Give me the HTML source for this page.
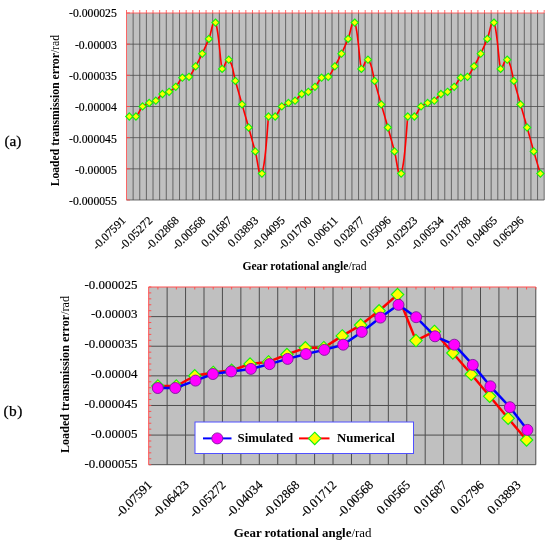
<!DOCTYPE html>
<html><head><meta charset="utf-8"><title>Loaded transmission error</title>
<style>html,body{margin:0;padding:0;background:#fff}svg{display:block}</style></head>
<body>
<svg width="550" height="544" viewBox="0 0 550 544">
<rect width="550" height="544" fill="#fff"/>
<rect x="126.5" y="13" width="417.7" height="187" fill="#c0c0c0"/>
<path d="M133.13 13V200M139.76 13V200M146.39 13V200M153.02 13V200M159.65 13V200M166.28 13V200M172.91 13V200M179.54 13V200M186.17 13V200M192.8 13V200M199.43 13V200M206.06 13V200M212.69 13V200M219.32 13V200M225.95 13V200M232.58 13V200M239.21 13V200M245.84 13V200M252.47 13V200M259.1 13V200M265.73 13V200M272.36 13V200M278.99 13V200M285.62 13V200M292.25 13V200M298.88 13V200M305.51 13V200M312.14 13V200M318.77 13V200M325.4 13V200M332.03 13V200M338.67 13V200M345.3 13V200M351.93 13V200M358.56 13V200M365.19 13V200M371.82 13V200M378.45 13V200M385.08 13V200M391.71 13V200M398.34 13V200M404.97 13V200M411.6 13V200M418.23 13V200M424.86 13V200M431.49 13V200M438.12 13V200M444.75 13V200M451.38 13V200M458.01 13V200M464.64 13V200M471.27 13V200M477.9 13V200M484.53 13V200M491.16 13V200M497.79 13V200M504.42 13V200M511.05 13V200M517.68 13V200M524.31 13V200M530.94 13V200M537.57 13V200M544.2 13V200M126.5 44.17H544.2M126.5 75.33H544.2M126.5 106.5H544.2M126.5 137.67H544.2M126.5 168.83H544.2M126.5 200H544.2" stroke="#4c4c4c" stroke-width="0.8" fill="none"/>
<path d="M126.5 200V13H544.2M126.5 13v-3M133.13 13v-3M139.76 13v-3M146.39 13v-3M153.02 13v-3M159.65 13v-3M166.28 13v-3M172.91 13v-3M179.54 13v-3M186.17 13v-3M192.8 13v-3M199.43 13v-3M206.06 13v-3M212.69 13v-3M219.32 13v-3M225.95 13v-3M232.58 13v-3M239.21 13v-3M245.84 13v-3M252.47 13v-3M259.1 13v-3M265.73 13v-3M272.36 13v-3M278.99 13v-3M285.62 13v-3M292.25 13v-3M298.88 13v-3M305.51 13v-3M312.14 13v-3M318.77 13v-3M325.4 13v-3M332.03 13v-3M338.67 13v-3M345.3 13v-3M351.93 13v-3M358.56 13v-3M365.19 13v-3M371.82 13v-3M378.45 13v-3M385.08 13v-3M391.71 13v-3M398.34 13v-3M404.97 13v-3M411.6 13v-3M418.23 13v-3M424.86 13v-3M431.49 13v-3M438.12 13v-3M444.75 13v-3M451.38 13v-3M458.01 13v-3M464.64 13v-3M471.27 13v-3M477.9 13v-3M484.53 13v-3M491.16 13v-3M497.79 13v-3M504.42 13v-3M511.05 13v-3M517.68 13v-3M524.31 13v-3M530.94 13v-3M537.57 13v-3M544.2 13v-3M126.5 13h3.5M126.5 44.17h3.5M126.5 75.33h3.5M126.5 106.5h3.5M126.5 137.67h3.5M126.5 168.83h3.5M126.5 200h3.5" stroke="#ff5050" stroke-width="0.85" fill="none"/>
<path d="M129.32 116.5C129.32 116.5 134.19 117.84 135.95 116.5C138.58 114.49 139.96 109.08 142.58 106.4C144.32 104.61 146.91 103.89 149.21 102.9C151.34 101.98 153.9 102 155.84 100.7C158.44 98.95 159.86 95.75 162.47 94C164.4 92.7 167.05 92.91 169.1 91.8C171.53 90.48 173.83 88.82 175.73 86.8C178.3 84.07 179.69 79.71 182.36 77.7C184.14 76.36 187.3 78.25 188.99 76.8C191.52 74.62 193.56 69.89 195.62 66.3C197.98 62.18 200.18 57.97 202.25 53.7C204.6 48.83 206.76 43.87 208.88 38.9C211.18 33.5 213.14 17.24 215.51 22.6C219.06 30.65 220.23 63.56 222.14 68.9C223.41 72.46 225.96 57.16 228.77 59.7C232.97 63.5 233.29 73.8 235.4 80.9C237.71 88.7 239.8 96.57 242.03 104.4C244.22 112.11 246.48 119.79 248.66 127.5C250.9 135.46 253 143.45 255.29 151.4C257.42 158.82 259.18 180.82 261.92 173.6C266.03 162.77 267.8 119.73 268.55 116.5C269.05 114.35 273.42 117.84 275.18 116.5C277.82 114.49 279.19 109.08 281.81 106.4C283.55 104.61 286.14 103.89 288.44 102.9C290.58 101.98 293.14 102 295.07 100.7C297.68 98.95 299.09 95.75 301.7 94C303.63 92.7 306.28 92.91 308.33 91.8C310.76 90.48 313.06 88.82 314.96 86.8C317.53 84.07 318.92 79.71 321.59 77.7C323.37 76.36 326.53 78.25 328.22 76.8C330.76 74.62 332.79 69.89 334.85 66.3C337.21 62.18 339.41 57.97 341.48 53.7C343.84 48.83 345.99 43.87 348.11 38.9C350.41 33.5 352.37 17.24 354.74 22.6C358.3 30.65 359.46 63.56 361.37 68.9C362.64 72.46 365.2 57.16 368 59.7C372.2 63.5 372.53 73.8 374.63 80.9C376.95 88.7 379.03 96.57 381.26 104.4C383.45 112.11 385.72 119.79 387.89 127.5C390.14 135.46 392.24 143.45 394.52 151.4C396.66 158.82 398.41 180.82 401.15 173.6C405.27 162.77 407.03 119.73 407.78 116.5C408.28 114.35 412.65 117.84 414.41 116.5C417.05 114.49 418.43 109.08 421.04 106.4C422.79 104.61 425.38 103.89 427.67 102.9C429.81 101.98 432.37 102 434.3 100.7C436.91 98.95 438.32 95.75 440.93 94C442.87 92.7 445.52 92.91 447.56 91.8C450 90.48 452.3 88.82 454.19 86.8C456.76 84.07 458.15 79.71 460.82 77.7C462.6 76.36 465.76 78.25 467.45 76.8C469.99 74.62 472.02 69.89 474.08 66.3C476.45 62.18 478.65 57.97 480.71 53.7C483.07 48.83 485.22 43.87 487.34 38.9C489.64 33.5 491.6 17.24 493.97 22.6C497.53 30.65 498.7 63.56 500.6 68.9C501.88 72.46 504.43 57.16 507.23 59.7C511.44 63.5 511.76 73.8 513.86 80.9C516.18 88.7 518.27 96.57 520.49 104.4C522.69 112.11 524.95 119.79 527.12 127.5C529.37 135.46 531.47 143.45 533.75 151.4C535.89 158.82 540.38 173.6 540.38 173.6" fill="none" stroke="#f00" stroke-width="1.6" stroke-linejoin="round"/>
<path d="M129.32 112.9L132.92 116.5L129.32 120.1L125.72 116.5Z" fill="#ffff00" stroke="#10f010" stroke-width="1.1"/>
<path d="M135.95 112.9L139.55 116.5L135.95 120.1L132.35 116.5Z" fill="#ffff00" stroke="#10f010" stroke-width="1.1"/>
<path d="M142.58 102.8L146.18 106.4L142.58 110L138.98 106.4Z" fill="#ffff00" stroke="#10f010" stroke-width="1.1"/>
<path d="M149.21 99.3L152.81 102.9L149.21 106.5L145.61 102.9Z" fill="#ffff00" stroke="#10f010" stroke-width="1.1"/>
<path d="M155.84 97.1L159.44 100.7L155.84 104.3L152.24 100.7Z" fill="#ffff00" stroke="#10f010" stroke-width="1.1"/>
<path d="M162.47 90.4L166.07 94L162.47 97.6L158.87 94Z" fill="#ffff00" stroke="#10f010" stroke-width="1.1"/>
<path d="M169.1 88.2L172.7 91.8L169.1 95.4L165.5 91.8Z" fill="#ffff00" stroke="#10f010" stroke-width="1.1"/>
<path d="M175.73 83.2L179.33 86.8L175.73 90.4L172.13 86.8Z" fill="#ffff00" stroke="#10f010" stroke-width="1.1"/>
<path d="M182.36 74.1L185.96 77.7L182.36 81.3L178.76 77.7Z" fill="#ffff00" stroke="#10f010" stroke-width="1.1"/>
<path d="M188.99 73.2L192.59 76.8L188.99 80.4L185.39 76.8Z" fill="#ffff00" stroke="#10f010" stroke-width="1.1"/>
<path d="M195.62 62.7L199.22 66.3L195.62 69.9L192.02 66.3Z" fill="#ffff00" stroke="#10f010" stroke-width="1.1"/>
<path d="M202.25 50.1L205.85 53.7L202.25 57.3L198.65 53.7Z" fill="#ffff00" stroke="#10f010" stroke-width="1.1"/>
<path d="M208.88 35.3L212.48 38.9L208.88 42.5L205.28 38.9Z" fill="#ffff00" stroke="#10f010" stroke-width="1.1"/>
<path d="M215.51 19L219.11 22.6L215.51 26.2L211.91 22.6Z" fill="#ffff00" stroke="#10f010" stroke-width="1.1"/>
<path d="M222.14 65.3L225.74 68.9L222.14 72.5L218.54 68.9Z" fill="#ffff00" stroke="#10f010" stroke-width="1.1"/>
<path d="M228.77 56.1L232.37 59.7L228.77 63.3L225.17 59.7Z" fill="#ffff00" stroke="#10f010" stroke-width="1.1"/>
<path d="M235.4 77.3L239 80.9L235.4 84.5L231.8 80.9Z" fill="#ffff00" stroke="#10f010" stroke-width="1.1"/>
<path d="M242.03 100.8L245.63 104.4L242.03 108L238.43 104.4Z" fill="#ffff00" stroke="#10f010" stroke-width="1.1"/>
<path d="M248.66 123.9L252.26 127.5L248.66 131.1L245.06 127.5Z" fill="#ffff00" stroke="#10f010" stroke-width="1.1"/>
<path d="M255.29 147.8L258.89 151.4L255.29 155L251.69 151.4Z" fill="#ffff00" stroke="#10f010" stroke-width="1.1"/>
<path d="M261.92 170L265.52 173.6L261.92 177.2L258.32 173.6Z" fill="#ffff00" stroke="#10f010" stroke-width="1.1"/>
<path d="M268.55 112.9L272.15 116.5L268.55 120.1L264.95 116.5Z" fill="#ffff00" stroke="#10f010" stroke-width="1.1"/>
<path d="M275.18 112.9L278.78 116.5L275.18 120.1L271.58 116.5Z" fill="#ffff00" stroke="#10f010" stroke-width="1.1"/>
<path d="M281.81 102.8L285.41 106.4L281.81 110L278.21 106.4Z" fill="#ffff00" stroke="#10f010" stroke-width="1.1"/>
<path d="M288.44 99.3L292.04 102.9L288.44 106.5L284.84 102.9Z" fill="#ffff00" stroke="#10f010" stroke-width="1.1"/>
<path d="M295.07 97.1L298.67 100.7L295.07 104.3L291.47 100.7Z" fill="#ffff00" stroke="#10f010" stroke-width="1.1"/>
<path d="M301.7 90.4L305.3 94L301.7 97.6L298.1 94Z" fill="#ffff00" stroke="#10f010" stroke-width="1.1"/>
<path d="M308.33 88.2L311.93 91.8L308.33 95.4L304.73 91.8Z" fill="#ffff00" stroke="#10f010" stroke-width="1.1"/>
<path d="M314.96 83.2L318.56 86.8L314.96 90.4L311.36 86.8Z" fill="#ffff00" stroke="#10f010" stroke-width="1.1"/>
<path d="M321.59 74.1L325.19 77.7L321.59 81.3L317.99 77.7Z" fill="#ffff00" stroke="#10f010" stroke-width="1.1"/>
<path d="M328.22 73.2L331.82 76.8L328.22 80.4L324.62 76.8Z" fill="#ffff00" stroke="#10f010" stroke-width="1.1"/>
<path d="M334.85 62.7L338.45 66.3L334.85 69.9L331.25 66.3Z" fill="#ffff00" stroke="#10f010" stroke-width="1.1"/>
<path d="M341.48 50.1L345.08 53.7L341.48 57.3L337.88 53.7Z" fill="#ffff00" stroke="#10f010" stroke-width="1.1"/>
<path d="M348.11 35.3L351.71 38.9L348.11 42.5L344.51 38.9Z" fill="#ffff00" stroke="#10f010" stroke-width="1.1"/>
<path d="M354.74 19L358.34 22.6L354.74 26.2L351.14 22.6Z" fill="#ffff00" stroke="#10f010" stroke-width="1.1"/>
<path d="M361.37 65.3L364.97 68.9L361.37 72.5L357.77 68.9Z" fill="#ffff00" stroke="#10f010" stroke-width="1.1"/>
<path d="M368 56.1L371.6 59.7L368 63.3L364.4 59.7Z" fill="#ffff00" stroke="#10f010" stroke-width="1.1"/>
<path d="M374.63 77.3L378.23 80.9L374.63 84.5L371.03 80.9Z" fill="#ffff00" stroke="#10f010" stroke-width="1.1"/>
<path d="M381.26 100.8L384.86 104.4L381.26 108L377.66 104.4Z" fill="#ffff00" stroke="#10f010" stroke-width="1.1"/>
<path d="M387.89 123.9L391.49 127.5L387.89 131.1L384.29 127.5Z" fill="#ffff00" stroke="#10f010" stroke-width="1.1"/>
<path d="M394.52 147.8L398.12 151.4L394.52 155L390.92 151.4Z" fill="#ffff00" stroke="#10f010" stroke-width="1.1"/>
<path d="M401.15 170L404.75 173.6L401.15 177.2L397.55 173.6Z" fill="#ffff00" stroke="#10f010" stroke-width="1.1"/>
<path d="M407.78 112.9L411.38 116.5L407.78 120.1L404.18 116.5Z" fill="#ffff00" stroke="#10f010" stroke-width="1.1"/>
<path d="M414.41 112.9L418.01 116.5L414.41 120.1L410.81 116.5Z" fill="#ffff00" stroke="#10f010" stroke-width="1.1"/>
<path d="M421.04 102.8L424.64 106.4L421.04 110L417.44 106.4Z" fill="#ffff00" stroke="#10f010" stroke-width="1.1"/>
<path d="M427.67 99.3L431.27 102.9L427.67 106.5L424.07 102.9Z" fill="#ffff00" stroke="#10f010" stroke-width="1.1"/>
<path d="M434.3 97.1L437.9 100.7L434.3 104.3L430.7 100.7Z" fill="#ffff00" stroke="#10f010" stroke-width="1.1"/>
<path d="M440.93 90.4L444.53 94L440.93 97.6L437.33 94Z" fill="#ffff00" stroke="#10f010" stroke-width="1.1"/>
<path d="M447.56 88.2L451.16 91.8L447.56 95.4L443.96 91.8Z" fill="#ffff00" stroke="#10f010" stroke-width="1.1"/>
<path d="M454.19 83.2L457.79 86.8L454.19 90.4L450.59 86.8Z" fill="#ffff00" stroke="#10f010" stroke-width="1.1"/>
<path d="M460.82 74.1L464.42 77.7L460.82 81.3L457.22 77.7Z" fill="#ffff00" stroke="#10f010" stroke-width="1.1"/>
<path d="M467.45 73.2L471.05 76.8L467.45 80.4L463.85 76.8Z" fill="#ffff00" stroke="#10f010" stroke-width="1.1"/>
<path d="M474.08 62.7L477.68 66.3L474.08 69.9L470.48 66.3Z" fill="#ffff00" stroke="#10f010" stroke-width="1.1"/>
<path d="M480.71 50.1L484.31 53.7L480.71 57.3L477.11 53.7Z" fill="#ffff00" stroke="#10f010" stroke-width="1.1"/>
<path d="M487.34 35.3L490.94 38.9L487.34 42.5L483.74 38.9Z" fill="#ffff00" stroke="#10f010" stroke-width="1.1"/>
<path d="M493.97 19L497.57 22.6L493.97 26.2L490.37 22.6Z" fill="#ffff00" stroke="#10f010" stroke-width="1.1"/>
<path d="M500.6 65.3L504.2 68.9L500.6 72.5L497 68.9Z" fill="#ffff00" stroke="#10f010" stroke-width="1.1"/>
<path d="M507.23 56.1L510.83 59.7L507.23 63.3L503.63 59.7Z" fill="#ffff00" stroke="#10f010" stroke-width="1.1"/>
<path d="M513.86 77.3L517.46 80.9L513.86 84.5L510.26 80.9Z" fill="#ffff00" stroke="#10f010" stroke-width="1.1"/>
<path d="M520.49 100.8L524.09 104.4L520.49 108L516.89 104.4Z" fill="#ffff00" stroke="#10f010" stroke-width="1.1"/>
<path d="M527.12 123.9L530.72 127.5L527.12 131.1L523.52 127.5Z" fill="#ffff00" stroke="#10f010" stroke-width="1.1"/>
<path d="M533.75 147.8L537.35 151.4L533.75 155L530.15 151.4Z" fill="#ffff00" stroke="#10f010" stroke-width="1.1"/>
<path d="M540.38 170L543.98 173.6L540.38 177.2L536.78 173.6Z" fill="#ffff00" stroke="#10f010" stroke-width="1.1"/>
<rect x="148.7" y="287" width="387.1" height="177.7" fill="#c0c0c0"/>
<path d="M167.13 287V464.7M185.57 287V464.7M204 287V464.7M222.43 287V464.7M240.87 287V464.7M259.3 287V464.7M277.73 287V464.7M296.17 287V464.7M314.6 287V464.7M333.03 287V464.7M351.47 287V464.7M369.9 287V464.7M388.33 287V464.7M406.77 287V464.7M425.2 287V464.7M443.63 287V464.7M462.07 287V464.7M480.5 287V464.7M498.93 287V464.7M517.37 287V464.7M535.8 287V464.7M148.7 316.62H535.8M148.7 346.23H535.8M148.7 375.85H535.8M148.7 405.47H535.8M148.7 435.08H535.8M148.7 464.7H535.8" stroke="#4c4c4c" stroke-width="1.0" fill="none"/>
<path d="M148.7 464.7V287H535.8M157.92 287v2.5M176.35 287v2.5M194.78 287v2.5M213.22 287v2.5M231.65 287v2.5M250.08 287v2.5M268.52 287v2.5M286.95 287v2.5M305.38 287v2.5M323.82 287v2.5M342.25 287v2.5M360.68 287v2.5M379.12 287v2.5M397.55 287v2.5M415.98 287v2.5M434.42 287v2.5M452.85 287v2.5M471.28 287v2.5M489.72 287v2.5M508.15 287v2.5M526.58 287v2.5M535.8 287v2.5M148.7 287h2.6M148.7 292.92h2.6M148.7 298.85h2.6M148.7 304.77h2.6M148.7 310.69h2.6M148.7 316.62h2.6M148.7 322.54h2.6M148.7 328.46h2.6M148.7 334.39h2.6M148.7 340.31h2.6M148.7 346.23h2.6M148.7 352.16h2.6M148.7 358.08h2.6M148.7 364h2.6M148.7 369.93h2.6M148.7 375.85h2.6M148.7 381.77h2.6M148.7 387.7h2.6M148.7 393.62h2.6M148.7 399.54h2.6M148.7 405.47h2.6M148.7 411.39h2.6M148.7 417.31h2.6M148.7 423.24h2.6M148.7 429.16h2.6M148.7 435.08h2.6M148.7 441.01h2.6M148.7 446.93h2.6M148.7 452.85h2.6M148.7 458.78h2.6M148.7 464.7h2.6" stroke="#ff5050" stroke-width="1" fill="none"/>
<polyline points="157.92,386 176.35,386 194.78,375.75 213.22,372.43 231.65,370.34 250.08,363.97 268.52,361.88 286.95,354.5 305.38,347.8 323.82,347.63 342.25,335.9 360.68,325.1 379.12,310.8 397.55,294.6 415.98,340.6 434.42,331.4 452.85,353 471.28,374.3 489.72,396.3 508.15,418.3 526.58,440" fill="none" stroke="#f00" stroke-width="2.5" stroke-linejoin="round"/>
<path d="M157.92 379.8L164.12 386L157.92 392.2L151.72 386Z" fill="#ffff00" stroke="#10f010" stroke-width="1.1"/>
<path d="M176.35 379.8L182.55 386L176.35 392.2L170.15 386Z" fill="#ffff00" stroke="#10f010" stroke-width="1.1"/>
<path d="M194.78 369.55L200.98 375.75L194.78 381.95L188.58 375.75Z" fill="#ffff00" stroke="#10f010" stroke-width="1.1"/>
<path d="M213.22 366.23L219.42 372.43L213.22 378.63L207.02 372.43Z" fill="#ffff00" stroke="#10f010" stroke-width="1.1"/>
<path d="M231.65 364.14L237.85 370.34L231.65 376.54L225.45 370.34Z" fill="#ffff00" stroke="#10f010" stroke-width="1.1"/>
<path d="M250.08 357.77L256.28 363.97L250.08 370.17L243.88 363.97Z" fill="#ffff00" stroke="#10f010" stroke-width="1.1"/>
<path d="M268.52 355.68L274.72 361.88L268.52 368.08L262.32 361.88Z" fill="#ffff00" stroke="#10f010" stroke-width="1.1"/>
<path d="M286.95 348.3L293.15 354.5L286.95 360.7L280.75 354.5Z" fill="#ffff00" stroke="#10f010" stroke-width="1.1"/>
<path d="M305.38 341.6L311.58 347.8L305.38 354L299.18 347.8Z" fill="#ffff00" stroke="#10f010" stroke-width="1.1"/>
<path d="M323.82 341.43L330.02 347.63L323.82 353.83L317.62 347.63Z" fill="#ffff00" stroke="#10f010" stroke-width="1.1"/>
<path d="M342.25 329.7L348.45 335.9L342.25 342.1L336.05 335.9Z" fill="#ffff00" stroke="#10f010" stroke-width="1.1"/>
<path d="M360.68 318.9L366.88 325.1L360.68 331.3L354.48 325.1Z" fill="#ffff00" stroke="#10f010" stroke-width="1.1"/>
<path d="M379.12 304.6L385.32 310.8L379.12 317L372.92 310.8Z" fill="#ffff00" stroke="#10f010" stroke-width="1.1"/>
<path d="M397.55 288.4L403.75 294.6L397.55 300.8L391.35 294.6Z" fill="#ffff00" stroke="#10f010" stroke-width="1.1"/>
<path d="M415.98 334.4L422.18 340.6L415.98 346.8L409.78 340.6Z" fill="#ffff00" stroke="#10f010" stroke-width="1.1"/>
<path d="M434.42 325.2L440.62 331.4L434.42 337.6L428.22 331.4Z" fill="#ffff00" stroke="#10f010" stroke-width="1.1"/>
<path d="M452.85 346.8L459.05 353L452.85 359.2L446.65 353Z" fill="#ffff00" stroke="#10f010" stroke-width="1.1"/>
<path d="M471.28 368.1L477.48 374.3L471.28 380.5L465.08 374.3Z" fill="#ffff00" stroke="#10f010" stroke-width="1.1"/>
<path d="M489.72 390.1L495.92 396.3L489.72 402.5L483.52 396.3Z" fill="#ffff00" stroke="#10f010" stroke-width="1.1"/>
<path d="M508.15 412.1L514.35 418.3L508.15 424.5L501.95 418.3Z" fill="#ffff00" stroke="#10f010" stroke-width="1.1"/>
<path d="M526.58 433.8L532.78 440L526.58 446.2L520.38 440Z" fill="#ffff00" stroke="#10f010" stroke-width="1.1"/>
<polyline points="157.8,388 175.3,388 195.5,380.6 212.9,374 231.2,371.4 250.9,368.9 269.6,364.1 287.6,358.9 306,354 324.3,349.9 343.2,344.7 361.8,331.9 380.4,317.6 398.5,304.8 416.1,317.2 435,336.3 454.3,344.7 472.8,364.9 490.4,386.3 509.9,407.2 527.4,429.9" fill="none" stroke="#0000ff" stroke-width="2.5" stroke-linejoin="round"/>
<circle cx="157.8" cy="388" r="5.5" fill="#ff00ff" stroke="#7a1a9a" stroke-width="0.9"/>
<circle cx="175.3" cy="388" r="5.5" fill="#ff00ff" stroke="#7a1a9a" stroke-width="0.9"/>
<circle cx="195.5" cy="380.6" r="5.5" fill="#ff00ff" stroke="#7a1a9a" stroke-width="0.9"/>
<circle cx="212.9" cy="374" r="5.5" fill="#ff00ff" stroke="#7a1a9a" stroke-width="0.9"/>
<circle cx="231.2" cy="371.4" r="5.5" fill="#ff00ff" stroke="#7a1a9a" stroke-width="0.9"/>
<circle cx="250.9" cy="368.9" r="5.5" fill="#ff00ff" stroke="#7a1a9a" stroke-width="0.9"/>
<circle cx="269.6" cy="364.1" r="5.5" fill="#ff00ff" stroke="#7a1a9a" stroke-width="0.9"/>
<circle cx="287.6" cy="358.9" r="5.5" fill="#ff00ff" stroke="#7a1a9a" stroke-width="0.9"/>
<circle cx="306" cy="354" r="5.5" fill="#ff00ff" stroke="#7a1a9a" stroke-width="0.9"/>
<circle cx="324.3" cy="349.9" r="5.5" fill="#ff00ff" stroke="#7a1a9a" stroke-width="0.9"/>
<circle cx="343.2" cy="344.7" r="5.5" fill="#ff00ff" stroke="#7a1a9a" stroke-width="0.9"/>
<circle cx="361.8" cy="331.9" r="5.5" fill="#ff00ff" stroke="#7a1a9a" stroke-width="0.9"/>
<circle cx="380.4" cy="317.6" r="5.5" fill="#ff00ff" stroke="#7a1a9a" stroke-width="0.9"/>
<circle cx="398.5" cy="304.8" r="5.5" fill="#ff00ff" stroke="#7a1a9a" stroke-width="0.9"/>
<circle cx="416.1" cy="317.2" r="5.5" fill="#ff00ff" stroke="#7a1a9a" stroke-width="0.9"/>
<circle cx="435" cy="336.3" r="5.5" fill="#ff00ff" stroke="#7a1a9a" stroke-width="0.9"/>
<circle cx="454.3" cy="344.7" r="5.5" fill="#ff00ff" stroke="#7a1a9a" stroke-width="0.9"/>
<circle cx="472.8" cy="364.9" r="5.5" fill="#ff00ff" stroke="#7a1a9a" stroke-width="0.9"/>
<circle cx="490.4" cy="386.3" r="5.5" fill="#ff00ff" stroke="#7a1a9a" stroke-width="0.9"/>
<circle cx="509.9" cy="407.2" r="5.5" fill="#ff00ff" stroke="#7a1a9a" stroke-width="0.9"/>
<circle cx="527.4" cy="429.9" r="5.5" fill="#ff00ff" stroke="#7a1a9a" stroke-width="0.9"/>
<rect x="195" y="422" width="218.5" height="31.5" fill="#fff" stroke="#5050ff" stroke-width="1"/>
<path d="M203 438.4H231.5" stroke="#0000ff" stroke-width="2"/>
<circle cx="217.3" cy="438.4" r="5.5" fill="#ff00ff" stroke="#7a1a9a" stroke-width="0.9"/>
<path d="M299 438.4H329.5" stroke="#f00" stroke-width="2"/>
<path d="M314.7 432.2L320.9 438.4L314.7 444.6L308.5 438.4Z" fill="#ffff00" stroke="#10f010" stroke-width="1.1"/>
<g font-family="'Liberation Serif', serif" fill="#000">
<text class="leg" x="237.5" y="441.9" font-size="12.85" font-weight="bold">Simulated</text>
<text class="leg" x="337" y="441.9" font-size="12.85" font-weight="bold">Numerical</text>
<text class="yl" stroke="#000" stroke-width="0.18" x="116.8" y="17.3" font-size="11.7" text-anchor="end">-0.000025</text>
<text class="yl" stroke="#000" stroke-width="0.18" x="116.8" y="48.63" font-size="11.7" text-anchor="end">-0.00003</text>
<text class="yl" stroke="#000" stroke-width="0.18" x="116.8" y="79.97" font-size="11.7" text-anchor="end">-0.000035</text>
<text class="yl" stroke="#000" stroke-width="0.18" x="116.8" y="111.3" font-size="11.7" text-anchor="end">-0.00004</text>
<text class="yl" stroke="#000" stroke-width="0.18" x="116.8" y="142.63" font-size="11.7" text-anchor="end">-0.000045</text>
<text class="yl" stroke="#000" stroke-width="0.18" x="116.8" y="173.97" font-size="11.7" text-anchor="end">-0.00005</text>
<text class="yl" stroke="#000" stroke-width="0.18" x="116.8" y="205.3" font-size="11.7" text-anchor="end">-0.000055</text>
<text class="yl" stroke="#000" stroke-width="0.18" x="137.4" y="288.6" font-size="12.95" text-anchor="end">-0.000025</text>
<text class="yl" stroke="#000" stroke-width="0.18" x="137.4" y="318.46" font-size="12.95" text-anchor="end">-0.00003</text>
<text class="yl" stroke="#000" stroke-width="0.18" x="137.4" y="348.32" font-size="12.95" text-anchor="end">-0.000035</text>
<text class="yl" stroke="#000" stroke-width="0.18" x="137.4" y="378.18" font-size="12.95" text-anchor="end">-0.00004</text>
<text class="yl" stroke="#000" stroke-width="0.18" x="137.4" y="408.03" font-size="12.95" text-anchor="end">-0.000045</text>
<text class="yl" stroke="#000" stroke-width="0.18" x="137.4" y="437.89" font-size="12.95" text-anchor="end">-0.00005</text>
<text class="yl" stroke="#000" stroke-width="0.18" x="137.4" y="467.75" font-size="12.95" text-anchor="end">-0.000055</text>
<text class="xl" stroke="#000" stroke-width="0.18" x="126.52" y="221" font-size="11.7" text-anchor="end" transform="rotate(-45 126.52 221)">-0.07591</text>
<text class="xl" stroke="#000" stroke-width="0.18" x="153.04" y="221" font-size="11.7" text-anchor="end" transform="rotate(-45 153.04 221)">-0.05272</text>
<text class="xl" stroke="#000" stroke-width="0.18" x="179.56" y="221" font-size="11.7" text-anchor="end" transform="rotate(-45 179.56 221)">-0.02868</text>
<text class="xl" stroke="#000" stroke-width="0.18" x="206.08" y="221" font-size="11.7" text-anchor="end" transform="rotate(-45 206.08 221)">-0.00568</text>
<text class="xl" stroke="#000" stroke-width="0.18" x="232.6" y="221" font-size="11.7" text-anchor="end" transform="rotate(-45 232.6 221)">0.01687</text>
<text class="xl" stroke="#000" stroke-width="0.18" x="259.12" y="221" font-size="11.7" text-anchor="end" transform="rotate(-45 259.12 221)">0.03893</text>
<text class="xl" stroke="#000" stroke-width="0.18" x="285.64" y="221" font-size="11.7" text-anchor="end" transform="rotate(-45 285.64 221)">-0.04095</text>
<text class="xl" stroke="#000" stroke-width="0.18" x="312.16" y="221" font-size="11.7" text-anchor="end" transform="rotate(-45 312.16 221)">-0.01700</text>
<text class="xl" stroke="#000" stroke-width="0.18" x="338.68" y="221" font-size="11.7" text-anchor="end" transform="rotate(-45 338.68 221)">0.00611</text>
<text class="xl" stroke="#000" stroke-width="0.18" x="365.2" y="221" font-size="11.7" text-anchor="end" transform="rotate(-45 365.2 221)">0.02877</text>
<text class="xl" stroke="#000" stroke-width="0.18" x="391.72" y="221" font-size="11.7" text-anchor="end" transform="rotate(-45 391.72 221)">0.05096</text>
<text class="xl" stroke="#000" stroke-width="0.18" x="418.24" y="221" font-size="11.7" text-anchor="end" transform="rotate(-45 418.24 221)">-0.02923</text>
<text class="xl" stroke="#000" stroke-width="0.18" x="444.76" y="221" font-size="11.7" text-anchor="end" transform="rotate(-45 444.76 221)">-0.00534</text>
<text class="xl" stroke="#000" stroke-width="0.18" x="471.28" y="221" font-size="11.7" text-anchor="end" transform="rotate(-45 471.28 221)">0.01788</text>
<text class="xl" stroke="#000" stroke-width="0.18" x="497.8" y="221" font-size="11.7" text-anchor="end" transform="rotate(-45 497.8 221)">0.04065</text>
<text class="xl" stroke="#000" stroke-width="0.18" x="524.32" y="221" font-size="11.7" text-anchor="end" transform="rotate(-45 524.32 221)">0.06296</text>
<text class="xl" stroke="#000" stroke-width="0.18" x="152.92" y="485.7" font-size="12.8" text-anchor="end" transform="rotate(-45 152.92 485.7)">-0.07591</text>
<text class="xl" stroke="#000" stroke-width="0.18" x="189.78" y="485.7" font-size="12.8" text-anchor="end" transform="rotate(-45 189.78 485.7)">-0.06423</text>
<text class="xl" stroke="#000" stroke-width="0.18" x="226.65" y="485.7" font-size="12.8" text-anchor="end" transform="rotate(-45 226.65 485.7)">-0.05272</text>
<text class="xl" stroke="#000" stroke-width="0.18" x="263.52" y="485.7" font-size="12.8" text-anchor="end" transform="rotate(-45 263.52 485.7)">-0.04034</text>
<text class="xl" stroke="#000" stroke-width="0.18" x="300.38" y="485.7" font-size="12.8" text-anchor="end" transform="rotate(-45 300.38 485.7)">-0.02868</text>
<text class="xl" stroke="#000" stroke-width="0.18" x="337.25" y="485.7" font-size="12.8" text-anchor="end" transform="rotate(-45 337.25 485.7)">-0.01712</text>
<text class="xl" stroke="#000" stroke-width="0.18" x="374.12" y="485.7" font-size="12.8" text-anchor="end" transform="rotate(-45 374.12 485.7)">-0.00568</text>
<text class="xl" stroke="#000" stroke-width="0.18" x="410.98" y="485.7" font-size="12.8" text-anchor="end" transform="rotate(-45 410.98 485.7)">0.00565</text>
<text class="xl" stroke="#000" stroke-width="0.18" x="447.85" y="485.7" font-size="12.8" text-anchor="end" transform="rotate(-45 447.85 485.7)">0.01687</text>
<text class="xl" stroke="#000" stroke-width="0.18" x="484.72" y="485.7" font-size="12.8" text-anchor="end" transform="rotate(-45 484.72 485.7)">0.02796</text>
<text class="xl" stroke="#000" stroke-width="0.18" x="521.58" y="485.7" font-size="12.8" text-anchor="end" transform="rotate(-45 521.58 485.7)">0.03893</text>
<text id="xta" x="304.5" y="270.1" font-size="11.63" text-anchor="middle"><tspan font-weight="bold">Gear rotational angle</tspan>/rad</text>
<text id="xtb" x="302.6" y="537.3" font-size="12.9" text-anchor="middle"><tspan font-weight="bold">Gear rotational angle</tspan>/rad</text>
<text id="yta" x="0" y="0" font-size="11.67" text-anchor="middle" transform="translate(58.5 110.65) rotate(-90)"><tspan font-weight="bold">Loaded transmission error</tspan>/rad</text>
<text id="ytb" x="0" y="0" font-size="12.1" text-anchor="middle" transform="translate(69.3 374.5) rotate(-90)"><tspan font-weight="bold">Loaded transmission error</tspan>/rad</text>
<text id="la" x="4.4" y="145.9" font-size="15.3" stroke="#000" stroke-width="0.25">(a)</text>
<text id="lb" x="3.6" y="415.7" font-size="15.4" letter-spacing="0.4" stroke="#000" stroke-width="0.25">(b)</text>
</g>
</svg>
</body></html>
